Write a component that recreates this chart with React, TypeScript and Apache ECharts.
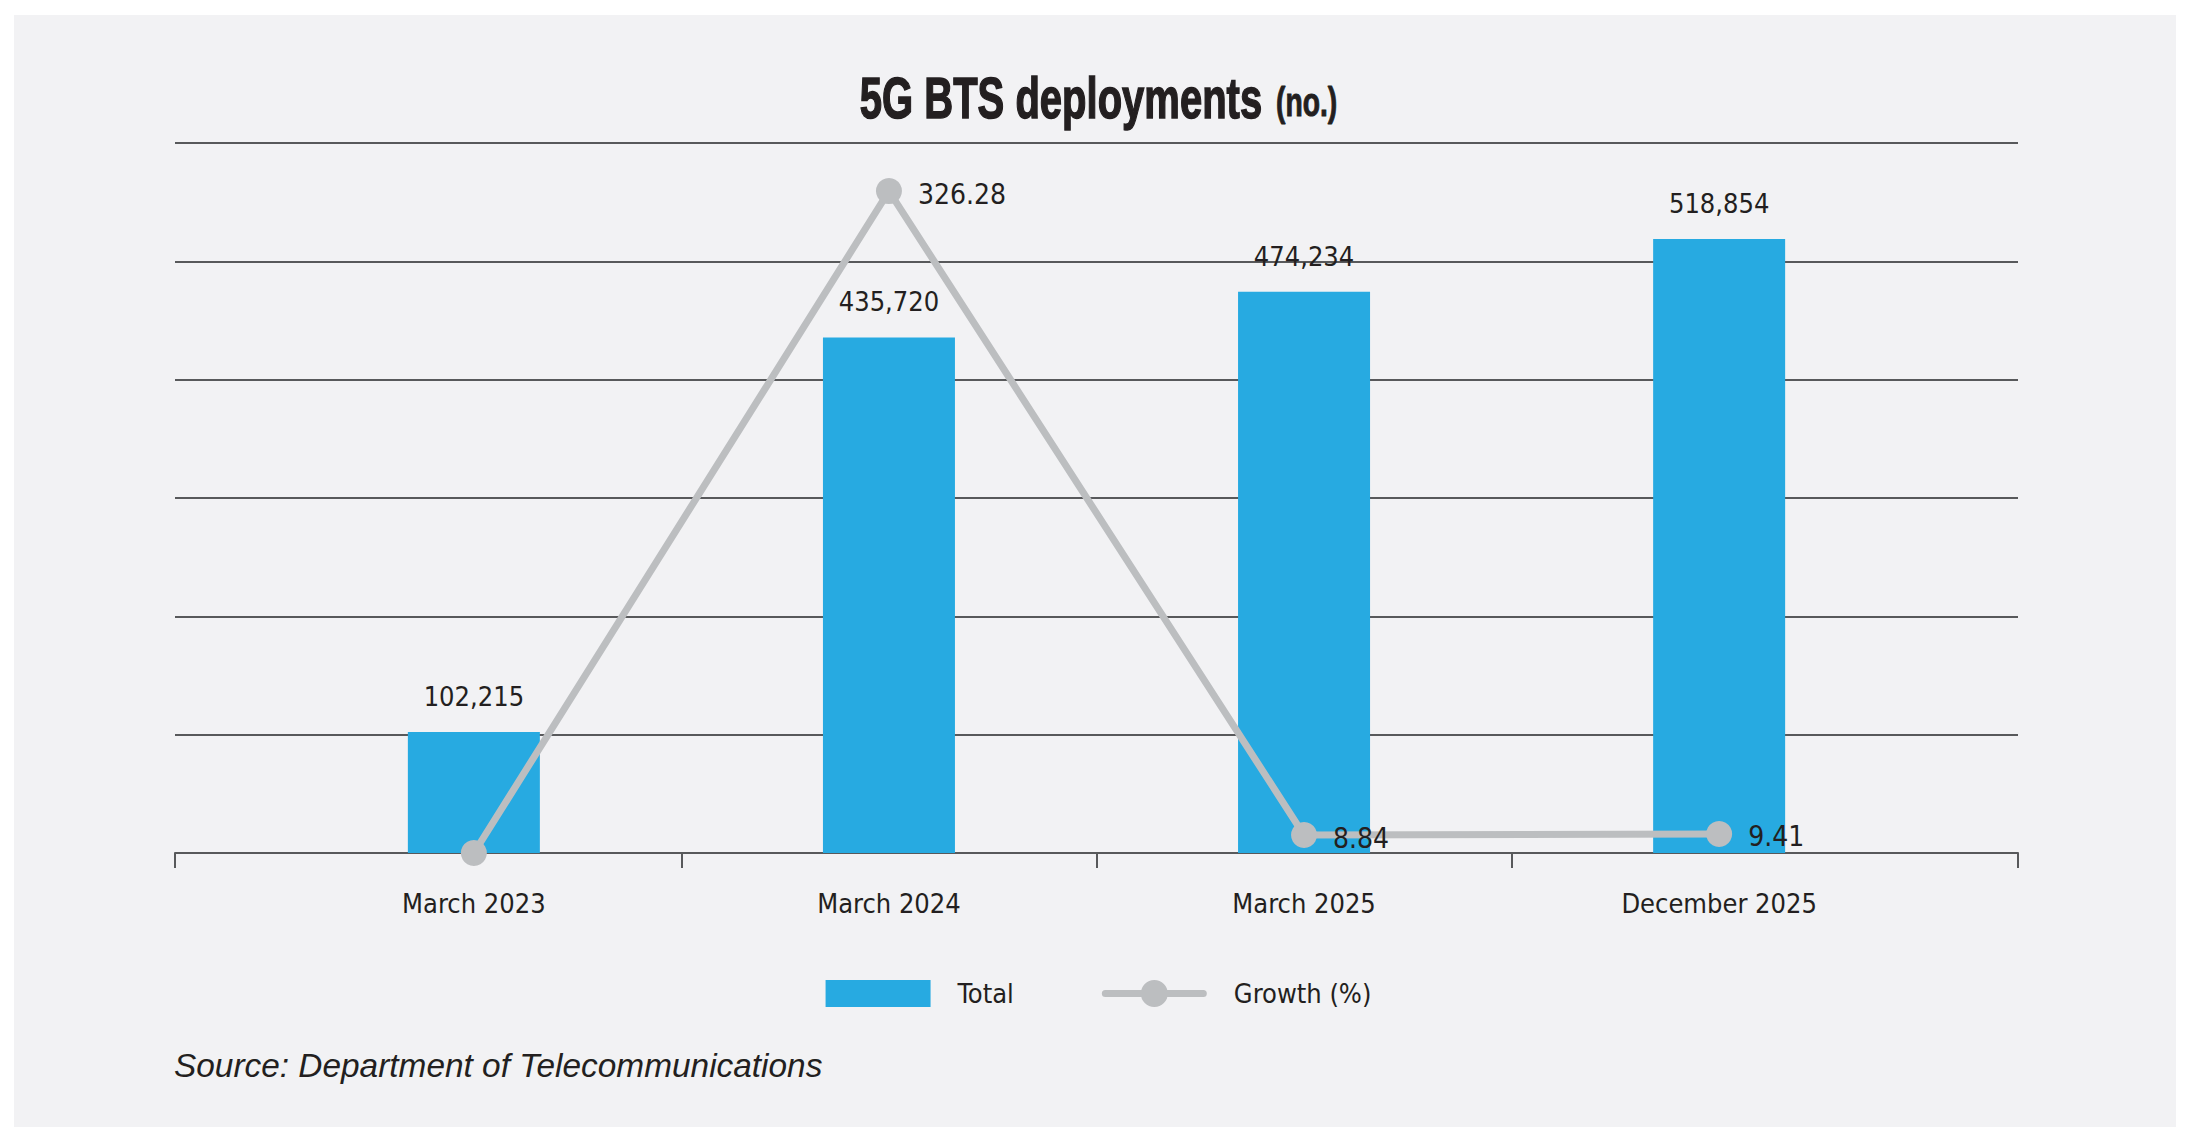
import React, { useEffect, useRef } from "react";
import * as echarts from "echarts";

// Chart data
const categories = ["March 2023", "March 2024", "March 2025", "December 2025"];
const totals = [102215, 435720, 474234, 518854];
const growth = [0, 326.28, 8.84, 9.41];
const growthLabelled = [false, true, true, true];
const totalAxisMax = 600000;
const totalAxisStep = 100000;
const growthAxisMax = 350;

const W = 2197;
const H = 1141;
// extra room on each side of the category bands, in band widths
const BAND_PAD = 0.22;

const TEXT = "#231f20";
const BLUE = "#27aae1";
const GREY = "#bcbec0";
const RULE = "#58595b";
const NARROW = "'Liberation Sans Narrow', 'Arial Narrow', 'DejaVu Sans Condensed', sans-serif";
const SANS = "'Liberation Sans', Arial, sans-serif";

// legend glyph for the growth line: a rounded stroke with a dot in the middle
const LINE_DOT_ICON =
  "path://M3.5,10 L101.5,10 A3.5,3.5 0 0 1 101.5,17 L3.5,17 A3.5,3.5 0 0 1 3.5,10 Z " +
  "M39,13.5 A13.5,13.5 0 1 1 66,13.5 A13.5,13.5 0 1 1 39,13.5 Z";

export default function App() {
  const ref = useRef<HTMLDivElement>(null);

  useEffect(() => {
    if (!ref.current) return;
    const chart = echarts.init(ref.current, undefined, { renderer: "svg" });

    const centers = categories.map((_, i) => i + 0.5);
    const bounds = categories.slice(1).map((_, i) => i + 1);

    chart.setOption({
      animation: false,
      backgroundColor: "#ffffff",
      graphic: [
        {
          type: "rect",
          z: -10,
          shape: { x: 14, y: 15, width: 2162, height: 1112 },
          style: { fill: "#f2f2f4" },
        },
        {
          type: "text",
          x: W / 2,
          y: 98,
          scaleX: 0.69,
          style: {
            text: "{a|5G BTS deployments}{b|(no.)}",
            align: "center",
            verticalAlign: "middle",
            fill: TEXT,
            rich: {
              a: {
                fontFamily: SANS,
                fontWeight: "bold",
                fontSize: 58,
                fill: TEXT,
                stroke: TEXT,
                lineWidth: 1.5,
              },
              b: {
                fontFamily: SANS,
                fontWeight: "bold",
                fontSize: 41,
                fill: TEXT,
                stroke: TEXT,
                lineWidth: 1,
                verticalAlign: "bottom",
                padding: [0, 0, 5, 20],
              },
            },
          },
        },
        {
          type: "text",
          x: 174,
          y: 1065,
          style: {
            text: "Source: Department of Telecommunications",
            fontFamily: SANS,
            fontStyle: "italic",
            fontSize: 33.4,
            fill: TEXT,
            align: "left",
            verticalAlign: "middle",
          },
        },
      ],
      legend: {
        data: [
          { name: "Total", icon: "rect" },
          { name: "Growth (%)", icon: LINE_DOT_ICON },
        ],
        left: "center",
        top: 975,
        itemWidth: 105,
        itemHeight: 27,
        itemGap: 88,
        textStyle: {
          fontFamily: NARROW,
          fontSize: 27,
          color: TEXT,
          padding: [0, 0, 0, 22],
        },
      },
      grid: { left: 175, right: W - 2018, top: 143, bottom: H - 853, containLabel: false },
      xAxis: {
        type: "value",
        min: -BAND_PAD,
        max: categories.length + BAND_PAD,
        splitLine: { show: false },
        axisLine: { show: true, onZero: false, lineStyle: { color: RULE, width: 2 } },
        axisTick: {
          show: true,
          length: 15,
          lineStyle: { color: RULE, width: 2 },
          customValues: [-BAND_PAD, ...bounds, categories.length + BAND_PAD],
        },
        axisLabel: {
          customValues: centers,
          formatter: (v: number) => categories[Math.floor(v)],
          margin: 37,
          fontFamily: NARROW,
          fontSize: 27,
          color: TEXT,
        },
      },
      yAxis: [
        {
          type: "value",
          min: 0,
          max: totalAxisMax,
          interval: totalAxisStep,
          axisLine: { show: false },
          axisTick: { show: false },
          axisLabel: { show: false },
          splitLine: { show: true, lineStyle: { color: RULE, width: 2 } },
        },
        {
          type: "value",
          min: 0,
          max: growthAxisMax,
          show: false,
          splitLine: { show: false },
        },
      ],
      series: [
        {
          name: "Total",
          type: "bar",
          yAxisIndex: 0,
          barWidth: 132,
          itemStyle: { color: BLUE },
          data: totals.map((v, i) => [centers[i], v]),
          label: {
            show: true,
            position: "top",
            distance: 22,
            fontFamily: NARROW,
            fontSize: 27,
            color: TEXT,
            formatter: (p: any) => Number(p.value[1]).toLocaleString("en-US"),
          },
        },
        {
          name: "Growth (%)",
          type: "line",
          yAxisIndex: 1,
          symbol: "circle",
          symbolSize: 26,
          lineStyle: { color: GREY, width: 7 },
          itemStyle: { color: GREY },
          data: growth.map((g, i) => ({
            value: [centers[i], g],
            label: { show: growthLabelled[i] },
          })),
          label: {
            show: true,
            position: "right",
            distance: 16,
            offset: [0, 3],
            fontFamily: NARROW,
            fontSize: 28,
            color: TEXT,
            formatter: (p: any) => Number(p.value[1]).toFixed(2),
          },
        },
      ],
    });

    return () => chart.dispose();
  }, []);

  return (
    <div
      ref={ref}
      style={{ position: "fixed", left: 0, top: 0, width: W, height: H }}
    />
  );
}
